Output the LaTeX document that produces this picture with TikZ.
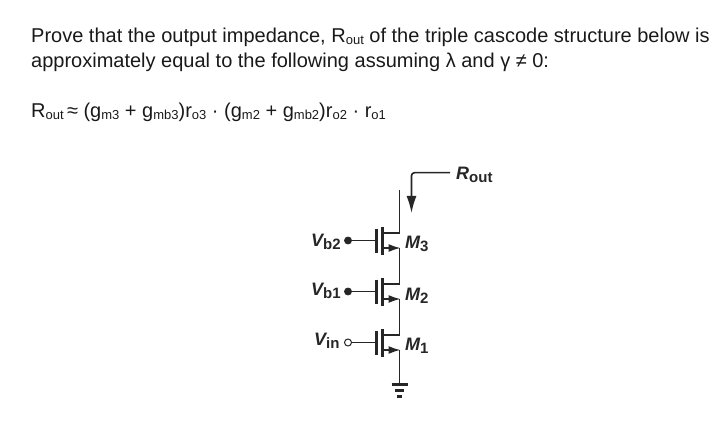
\documentclass[tikz,border=0pt]{standalone}
\usepackage{fontspec}
\setmainfont{Liberation Sans}
\usetikzlibrary{arrows.meta}
\newcommand{\Sb}[1]{\raisebox{-1.2pt}{\fontsize{13}{16}\selectfont #1}}
\newcommand{\Lb}[2]{{\fontsize{18}{20}\selectfont\bfseries\itshape #1\raisebox{-3pt}{\fontsize{15}{16}\selectfont\upshape #2}}}
\tikzset{
  txt/.style={anchor=base west, inner sep=0pt, text=black!90, font=\fontsize{20}{24}\selectfont},
  lbl/.style={anchor=base west, inner sep=0pt, text=black!85},
  wire/.style={line width=1.6pt, black!85},
  bar/.style={line width=3pt, black!85},
  termfull/.style={circle, draw=black!85, fill=black!85, line width=0.8pt, minimum size=7pt, inner sep=0pt},
  termopen/.style={circle, draw=black!85, fill=white, line width=1pt, minimum size=7pt, inner sep=0pt}
}
\begin{document}
\begin{tikzpicture}[x=1pt, y=-1pt, >={Latex[length=12pt,width=8pt]}]
\useasboundingbox (0,0) rectangle (726,425);

% question text
\node[txt] (line1) at (31,43) {Prove that the output impedance, R\Sb{out} of the triple cascode structure below is};
\node[txt] (line2) at (31,68) {approximately equal to the following assuming λ and γ ≠ 0:};
\node[txt] (eqn) at (31,118) {R\Sb{out}\,≈ (g\Sb{m3} + g\Sb{mb3})r\Sb{o3} · (g\Sb{m2} + g\Sb{mb2})r\Sb{o2} · r\Sb{o1}};

% the three devices
\foreach \dev/\gy in {M3/240.5, M2/291.5, M1/342.5} {
  \coordinate (\dev d) at (399.5,\gy-7.5);
  \coordinate (\dev ch) at (382,\gy-7.5);
  \coordinate (\dev s) at (400.5,\gy+7.5);
  \coordinate (\dev cs) at (382,\gy+7.5);
  \coordinate (\dev g) at (376,\gy);
  \draw[bar] (376,\gy-12) -- (376,\gy+12);
  \draw[bar] (382,\gy-13.5) -- (382,\gy+14);
  \draw[wire] (\dev ch) -- (\dev d);
  \draw[wire, ->] (\dev cs) -- (\dev s);
}
\node[termfull] (Vb2t) at (348,240.5) {};
\node[termfull] (Vb1t) at (348,291.5) {};
\node[termopen] (Vint) at (348,342.5) {};
\draw[wire] (Vb2t) -- (M3g);
\draw[wire] (Vb1t) -- (M2g);
\draw[wire] (Vint) -- (M1g);

% stack and ground
\coordinate (top) at (399.5,190);
\coordinate (gnd) at (399.5,384);
\coordinate (M3j) at (399.5,248);
\coordinate (M2j) at (399.5,299);
\coordinate (M1j) at (399.5,350);
\draw[wire] (top) -- (M3d);
\draw[wire] (M3j) -- (M2d);
\draw[wire] (M2j) -- (M1d);
\draw[wire] (M1j) -- (gnd);
\draw[bar] (391.5,384) -- (407.5,384);
\draw[bar] (395,390.5) -- (404,390.5);
\draw[bar] (396.8,396.8) -- (401.8,396.8);

% output arrow
\coordinate (Rs) at (450,172.7);
\coordinate (Re) at (411.5,213);
\draw[wire, rounded corners=3pt, -{Latex[length=17pt,width=10pt]}] (Rs) -| (Re);

% labels
\node[lbl] (Rout) at (456,179.5) {\Lb{R}{out}};
\node[lbl] (Vb2) at (311,246.5) {\Lb{V}{b2}};
\node[lbl] (Vb1) at (311,295.5) {\Lb{V}{b1}};
\node[lbl] (Vin) at (314,345.5) {\Lb{V}{in}};
\node[lbl] (M3) at (405,248) {\Lb{M}{3}};
\node[lbl] (M2) at (405,300) {\Lb{M}{2}};
\node[lbl] (M1) at (405,350) {\Lb{M}{1}};
\end{tikzpicture}
\end{document}
